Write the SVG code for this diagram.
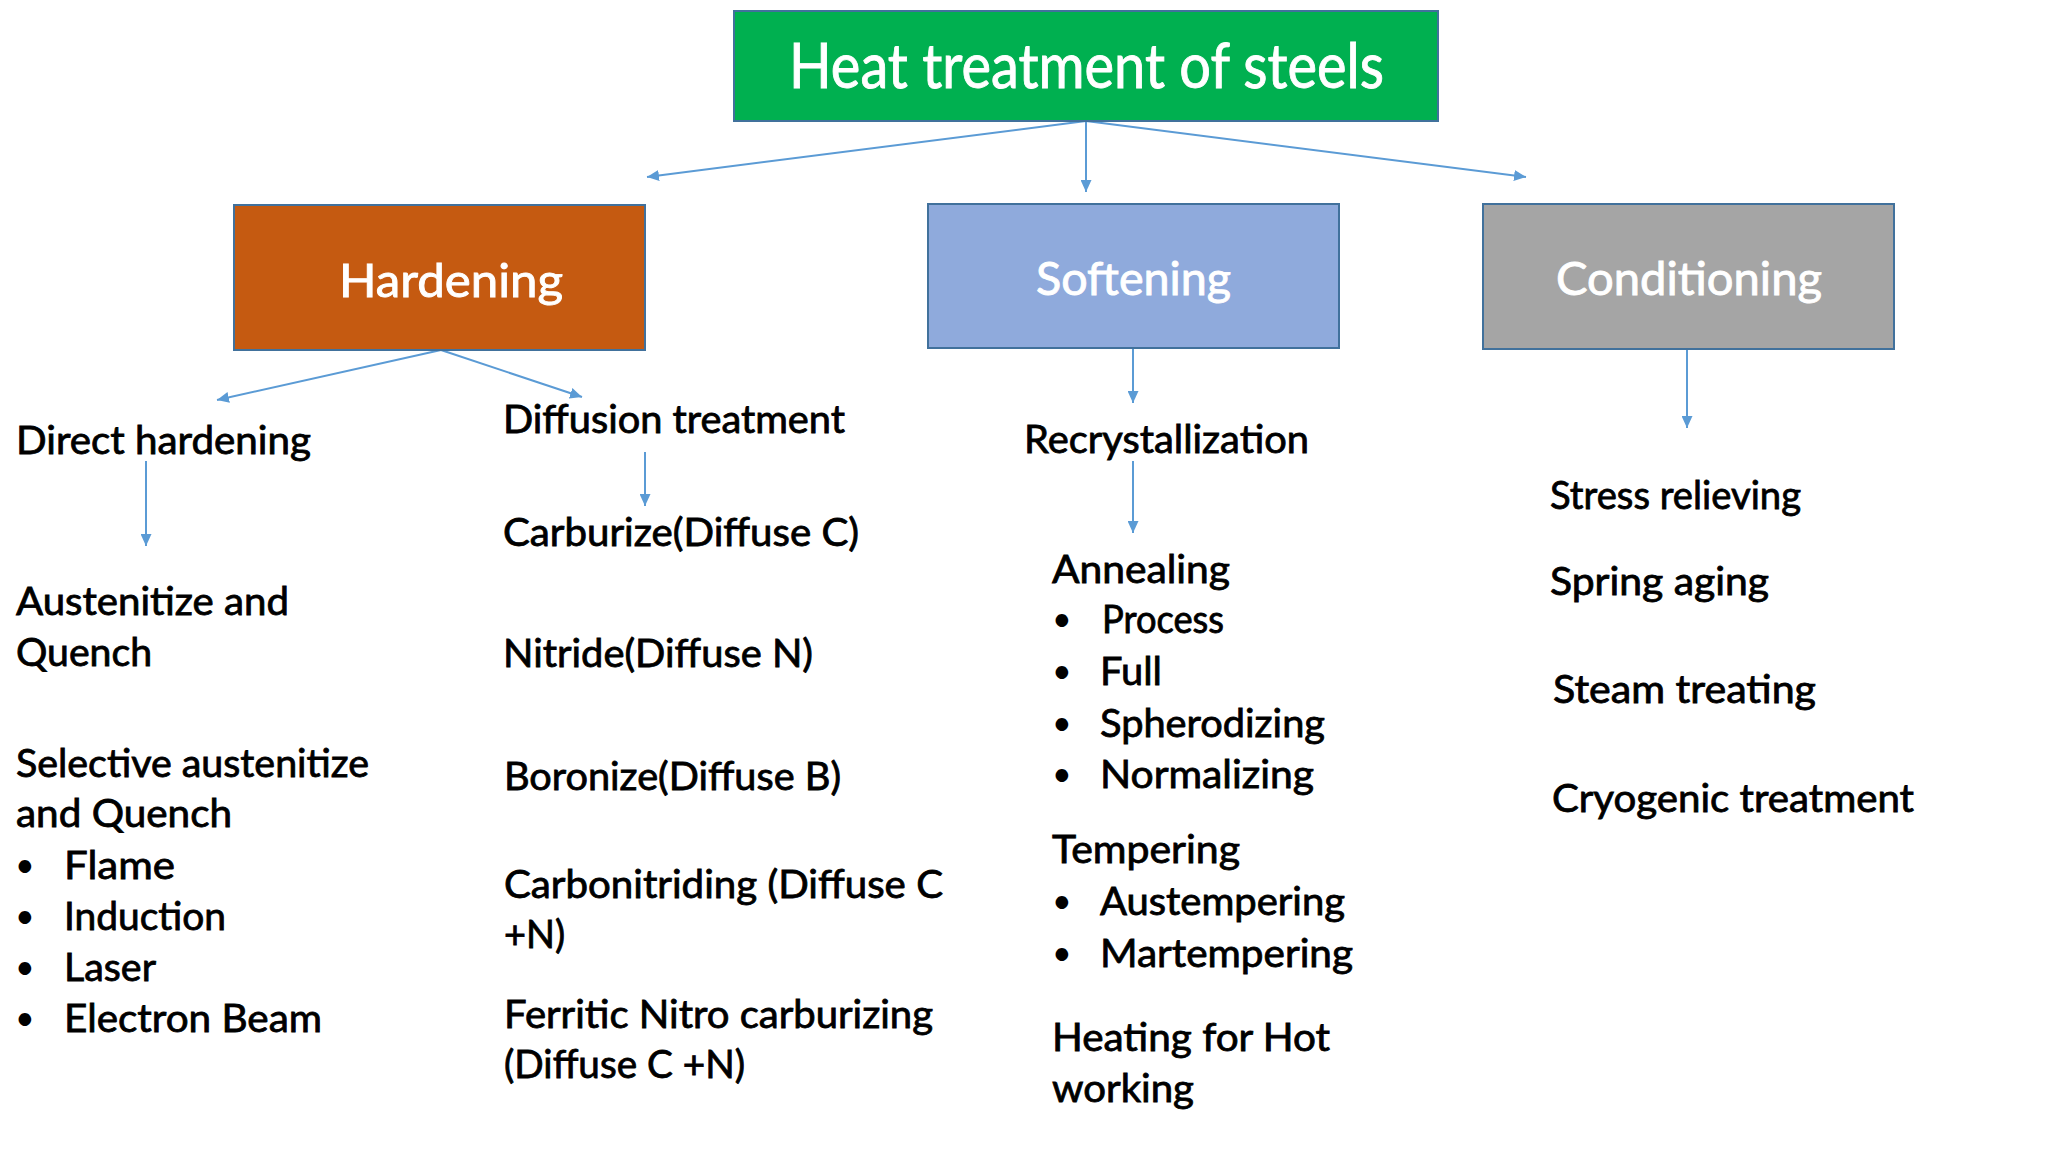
<svg xmlns="http://www.w3.org/2000/svg" width="2048" height="1152" viewBox="0 0 2048 1152">
<defs>
<marker id="ah" markerUnits="userSpaceOnUse" markerWidth="13" markerHeight="11" refX="12" refY="5.5" orient="auto">
<path d="M0,0 L12,5.5 L0,11 z" fill="#5B9BD5"/>
</marker>
<style>
.box{stroke:#41719C;stroke-width:2}
.ttl{font-family:Lato,"Liberation Sans",sans-serif;fill:#FFFFFF;stroke:#FFFFFF;stroke-width:0.9px;}
.t{font-family:Lato,"Liberation Sans",sans-serif;font-size:38px;fill:#000000;stroke:#000000;stroke-width:0.8px;}
.b{font-family:Lato,"Liberation Sans",sans-serif;font-size:34px;fill:#000000;}
.c{stroke:#5B9BD5;stroke-width:2;fill:none;marker-end:url(#ah)}
</style>
</defs>
<rect width="2048" height="1152" fill="#FFFFFF"/>

<g id="connectors">
<line class="c" x1="1086" y1="121" x2="647" y2="177"/>
<line class="c" x1="1086" y1="121" x2="1086" y2="192"/>
<line class="c" x1="1086" y1="121" x2="1526" y2="177"/>
<line class="c" x1="441" y1="350" x2="217" y2="400"/>
<line class="c" x1="441" y1="350" x2="582" y2="397"/>
<line class="c" x1="146" y1="461" x2="146" y2="546"/>
<line class="c" x1="645" y1="452" x2="645" y2="506"/>
<line class="c" x1="1133" y1="348" x2="1133" y2="403"/>
<line class="c" x1="1133" y1="461" x2="1133" y2="533"/>
<line class="c" x1="1687" y1="349" x2="1687" y2="428"/>
</g>

<g id="root">
<rect class="box" x="734" y="11" width="704" height="110" fill="#00B050"/>
<text class="ttl" x="789" y="88" font-size="62" textLength="595" lengthAdjust="spacingAndGlyphs">Heat treatment of steels</text>
</g>

<g id="hardening">
<rect class="box" x="234" y="205" width="411" height="145" fill="#C55A11"/>
<text class="ttl" x="339" y="297" font-size="47" textLength="224" lengthAdjust="spacingAndGlyphs">Hardening</text>
</g>

<g id="softening">
<rect class="box" x="928" y="204" width="411" height="144" fill="#8FAADC"/>
<text class="ttl" x="1036" y="295" font-size="47" textLength="195" lengthAdjust="spacingAndGlyphs">Softening</text>
</g>

<g id="conditioning">
<rect class="box" x="1483" y="204" width="411" height="145" fill="#A5A5A5"/>
<text class="ttl" x="1556" y="295" font-size="47" textLength="266" lengthAdjust="spacingAndGlyphs">Conditioning</text>
</g>

<g id="direct-hardening">
<text class="t" x="16" y="454" textLength="295" lengthAdjust="spacingAndGlyphs">Direct hardening</text>
</g>
<g id="austenitize">
<text class="t" x="16" y="615" textLength="273" lengthAdjust="spacingAndGlyphs">Austenitize and</text>
<text class="t" x="16" y="666" textLength="136" lengthAdjust="spacingAndGlyphs">Quench</text>
</g>
<g id="selective">
<text class="t" x="16" y="777" textLength="353" lengthAdjust="spacingAndGlyphs">Selective austenitize</text>
<text class="t" x="16" y="827" textLength="216" lengthAdjust="spacingAndGlyphs">and Quench</text>
<text class="b" x="15" y="877">•</text>
<text class="t" x="64" y="879" textLength="111" lengthAdjust="spacingAndGlyphs">Flame</text>
<text class="b" x="15" y="928">•</text>
<text class="t" x="64" y="930" textLength="162" lengthAdjust="spacingAndGlyphs">Induction</text>
<text class="b" x="15" y="979">•</text>
<text class="t" x="64" y="981" textLength="92" lengthAdjust="spacingAndGlyphs">Laser</text>
<text class="b" x="15" y="1030">•</text>
<text class="t" x="64" y="1032" textLength="258" lengthAdjust="spacingAndGlyphs">Electron Beam</text>
</g>

<g id="diffusion">
<text class="t" x="503" y="433" textLength="342" lengthAdjust="spacingAndGlyphs">Diffusion treatment</text>
</g>
<g id="carburize">
<text class="t" x="503" y="546" textLength="356" lengthAdjust="spacingAndGlyphs">Carburize(Diffuse C)</text>
</g>
<g id="nitride">
<text class="t" x="503" y="667" textLength="310" lengthAdjust="spacingAndGlyphs">Nitride(Diffuse N)</text>
</g>
<g id="boronize">
<text class="t" x="504" y="790" textLength="337" lengthAdjust="spacingAndGlyphs">Boronize(Diffuse B)</text>
</g>
<g id="carbonitriding">
<text class="t" x="504" y="898" textLength="439" lengthAdjust="spacingAndGlyphs">Carbonitriding (Diffuse C</text>
<text class="t" x="504" y="948" textLength="61" lengthAdjust="spacingAndGlyphs">+N)</text>
</g>
<g id="ferritic">
<text class="t" x="504" y="1028" textLength="429" lengthAdjust="spacingAndGlyphs">Ferritic Nitro carburizing</text>
<text class="t" x="504" y="1078" textLength="241" lengthAdjust="spacingAndGlyphs">(Diffuse C +N)</text>
</g>

<g id="recrystallization">
<text class="t" x="1024" y="453" textLength="285" lengthAdjust="spacingAndGlyphs">Recrystallization</text>
</g>
<g id="annealing">
<text class="t" x="1052" y="583" textLength="178" lengthAdjust="spacingAndGlyphs">Annealing</text>
<text class="b" x="1052" y="631">•</text>
<text class="t" x="1102" y="633" textLength="122" lengthAdjust="spacingAndGlyphs">Process</text>
<text class="b" x="1052" y="683">•</text>
<text class="t" x="1100" y="685" textLength="62" lengthAdjust="spacingAndGlyphs">Full</text>
<text class="b" x="1052" y="735">•</text>
<text class="t" x="1100" y="737" textLength="225" lengthAdjust="spacingAndGlyphs">Spherodizing</text>
<text class="b" x="1052" y="786">•</text>
<text class="t" x="1100" y="788" textLength="214" lengthAdjust="spacingAndGlyphs">Normalizing</text>
</g>
<g id="tempering">
<text class="t" x="1052" y="863" textLength="188" lengthAdjust="spacingAndGlyphs">Tempering</text>
<text class="b" x="1052" y="913">•</text>
<text class="t" x="1100" y="915" textLength="245" lengthAdjust="spacingAndGlyphs">Austempering</text>
<text class="b" x="1052" y="965">•</text>
<text class="t" x="1100" y="967" textLength="253" lengthAdjust="spacingAndGlyphs">Martempering</text>
</g>
<g id="hot-working">
<text class="t" x="1052" y="1051" textLength="278" lengthAdjust="spacingAndGlyphs">Heating for Hot</text>
<text class="t" x="1052" y="1102" textLength="142" lengthAdjust="spacingAndGlyphs">working</text>
</g>

<g id="stress-relieving">
<text class="t" x="1550" y="509" textLength="251" lengthAdjust="spacingAndGlyphs">Stress relieving</text>
</g>
<g id="spring-aging">
<text class="t" x="1550" y="595" textLength="219" lengthAdjust="spacingAndGlyphs">Spring aging</text>
</g>
<g id="steam-treating">
<text class="t" x="1553" y="703" textLength="263" lengthAdjust="spacingAndGlyphs">Steam treating</text>
</g>
<g id="cryogenic">
<text class="t" x="1552" y="812" textLength="362" lengthAdjust="spacingAndGlyphs">Cryogenic treatment</text>
</g>
</svg>
